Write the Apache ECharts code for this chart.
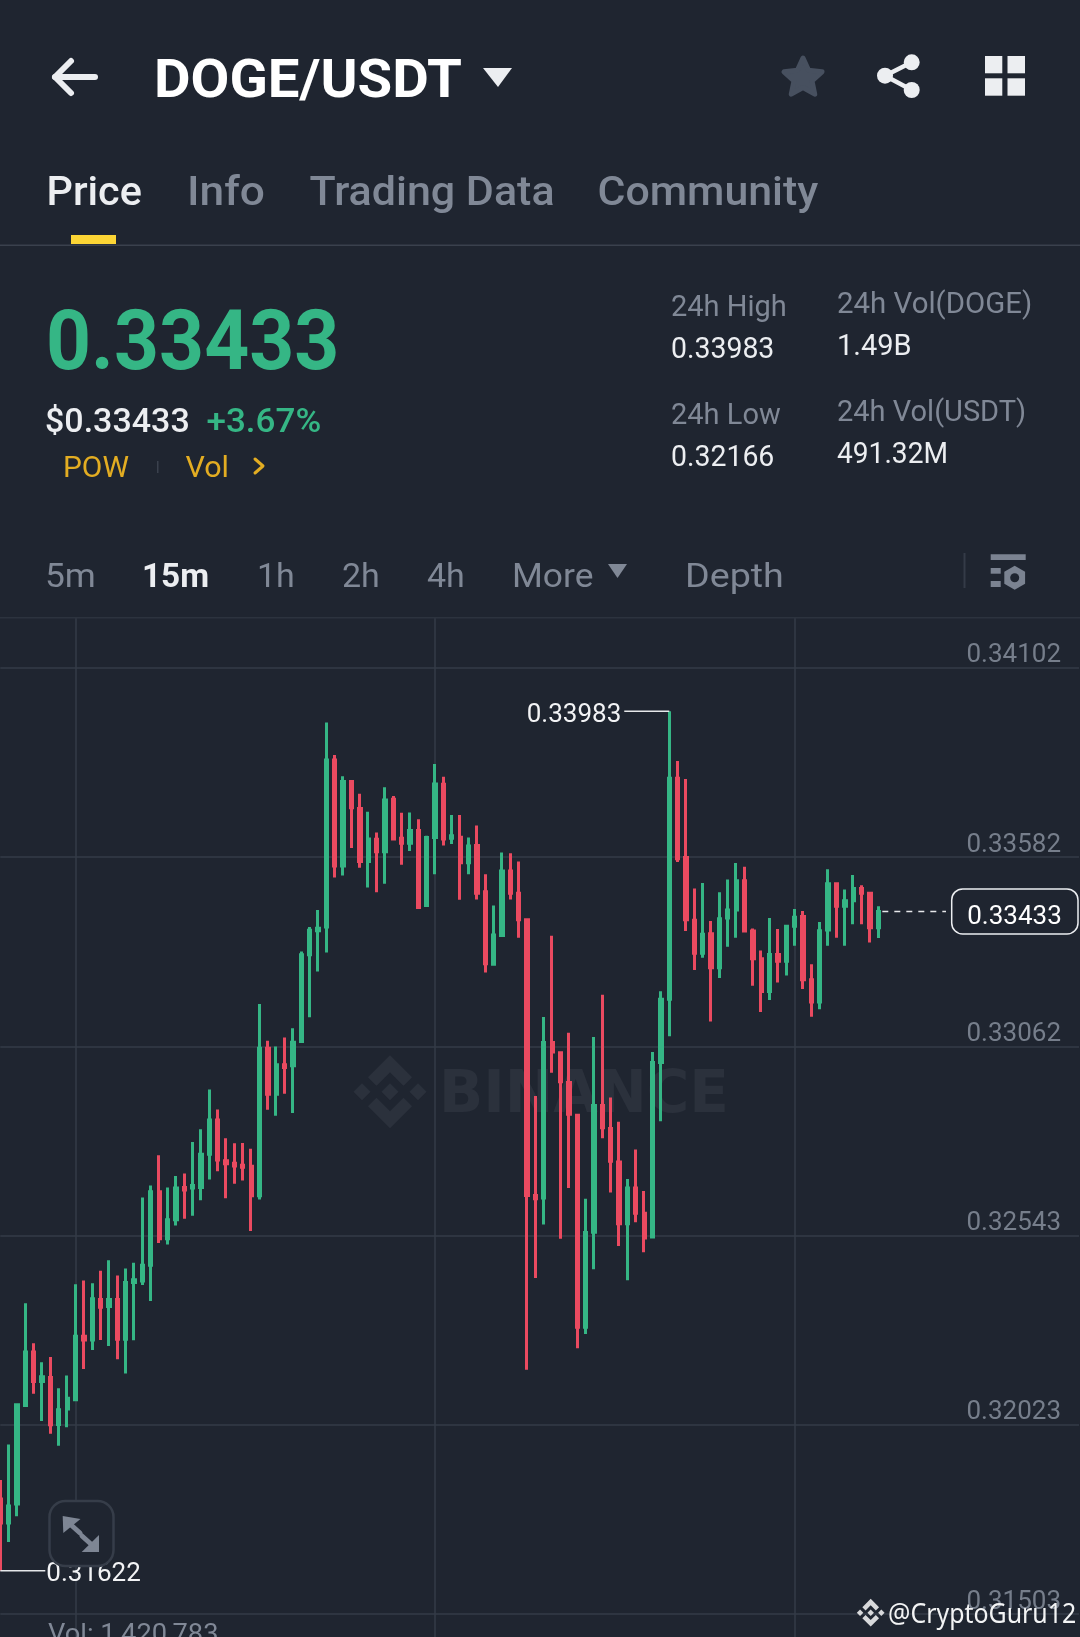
<!DOCTYPE html>
<html>
<head>
<meta charset="utf-8">
<style>html,body{margin:0;padding:0;background:#1f2530}#c{width:1080px;height:1637px}</style>
<script src="https://cdn.jsdelivr.net/npm/echarts@6/dist/echarts.min.js"></script>
</head>
<body>
<div id="c"></div>
<script>
const opens = [0.31819,0.31753,0.31805,0.32076,0.32223,0.32142,0.32153,0.32024,0.32066,0.32092,
0.32266,0.32256,0.32367,0.32348,0.32367,0.32258,0.32414,0.32418,0.32461,0.32663,
0.32534,0.32586,0.32675,0.32673,0.32675,0.32766,0.32860,0.32748,0.32741,0.32736,
0.32733,0.32652,0.33057,0.32931,0.33012,0.33009,0.33076,0.33314,0.33380,0.33390,
0.33849,0.33558,0.33790,0.33716,0.33570,0.33631,0.33597,0.33741,0.33634,0.33620,
0.33655,0.33449,0.33636,0.33782,0.33634,0.33637,0.33567,0.33614,0.33487,0.33288,
0.33367,0.33544,0.33483,0.33410,0.32653,0.32646,0.33073,0.33045,0.32963,0.32873,
0.32291,0.32552,0.32900,0.32837,0.32745,0.32575,0.32673,0.32604,0.32539,0.33018,
0.33192,0.33799,0.33581,0.33409,0.33318,0.33372,0.33278,0.33415,0.33437,0.33517,
0.33379,0.33303,0.33213,0.33315,0.33296,0.33392,0.33419,0.33245,0.33184,0.33382,
0.33509,0.33447,0.33462,0.33496,0.33483,0.33388];
const closes = [0.31753,0.31800,0.32078,0.32223,0.32142,0.32155,0.32023,0.32064,0.32096,0.32266,
0.32256,0.32369,0.32346,0.32367,0.32258,0.32414,0.32421,0.32461,0.32663,0.32534,
0.32586,0.32673,0.32668,0.32680,0.32766,0.32860,0.32750,0.32740,0.32734,0.32730,
0.32652,0.33057,0.32931,0.33012,0.33004,0.33074,0.33314,0.33381,0.33387,0.33849,
0.33558,0.33790,0.33718,0.33570,0.33632,0.33597,0.33739,0.33632,0.33620,0.33655,
0.33444,0.33636,0.33783,0.33632,0.33641,0.33567,0.33613,0.33483,0.33289,0.33368,
0.33544,0.33483,0.33410,0.32653,0.32644,0.33073,0.33047,0.32965,0.32876,0.32291,
0.32551,0.32900,0.32839,0.32747,0.32575,0.32673,0.32604,0.32536,0.33018,0.33192,
0.33799,0.33578,0.33410,0.33318,0.33370,0.33278,0.33413,0.33437,0.33517,0.33379,
0.33303,0.33213,0.33315,0.33296,0.33392,0.33417,0.33245,0.33184,0.33380,0.33509,
0.33447,0.33462,0.33496,0.33483,0.33388,0.33433];
const lows = [0.31622,0.31701,0.31772,0.32074,0.32108,0.32033,0.31998,0.31965,0.32016,0.32089,
0.32176,0.32228,0.32256,0.32239,0.32203,0.32164,0.32255,0.32407,0.32363,0.32522,
0.32518,0.32570,0.32589,0.32597,0.32640,0.32697,0.32719,0.32645,0.32685,0.32694,
0.32555,0.32642,0.32888,0.32872,0.32932,0.32879,0.33074,0.33142,0.33268,0.33320,
0.33526,0.33532,0.33607,0.33553,0.33499,0.33486,0.33509,0.33629,0.33561,0.33599,
0.33442,0.33448,0.33535,0.33614,0.33618,0.33465,0.33535,0.33466,0.33265,0.33284,
0.33364,0.33466,0.33361,0.32174,0.32426,0.32573,0.32990,0.32534,0.32673,0.32233,
0.32272,0.32450,0.32810,0.32661,0.32514,0.32420,0.32579,0.32497,0.32536,0.32857,
0.33090,0.33569,0.33379,0.33272,0.33306,0.33131,0.33250,0.33336,0.33361,0.33377,
0.33229,0.33157,0.33190,0.33238,0.33257,0.33339,0.33220,0.33144,0.33164,0.33339,
0.33361,0.33339,0.33398,0.33398,0.33348,0.33360];
const highs = [0.31871,0.31969,0.32080,0.32357,0.32247,0.32195,0.32209,0.32123,0.32158,0.32409,
0.32419,0.32412,0.32446,0.32475,0.32433,0.32452,0.32468,0.32647,0.32680,0.32763,
0.32675,0.32706,0.32713,0.32800,0.32835,0.32944,0.32889,0.32810,0.32796,0.32797,
0.32781,0.33179,0.33078,0.33062,0.33087,0.33112,0.33323,0.33390,0.33437,0.33952,
0.33863,0.33804,0.33792,0.33756,0.33707,0.33650,0.33774,0.33750,0.33704,0.33705,
0.33686,0.33641,0.33838,0.33803,0.33698,0.33698,0.33636,0.33669,0.33535,0.33449,
0.33595,0.33593,0.33570,0.33413,0.32926,0.33143,0.33366,0.33047,0.33100,0.32875,
0.32644,0.33088,0.33204,0.32922,0.32855,0.32698,0.32779,0.32665,0.33047,0.33214,
0.33983,0.33846,0.33797,0.33496,0.33511,0.33407,0.33486,0.33521,0.33566,0.33556,
0.33386,0.33326,0.33415,0.33385,0.33394,0.33440,0.33434,0.33288,0.33404,0.33549,
0.33511,0.33493,0.33533,0.33505,0.33485,0.33447];
const yTicks = [0.31503,0.32023,0.32543,0.33062,0.33582,0.34102];
const highMark = 0.33983, highIndex = 80;
const lowMark = 0.31622, lowIndex = 0;
const lastPrice = 0.33433, lastIndex = 105;
const slotCount = 130;
const categories = Array.from({length: slotCount}, (_, i) => String(i));

const BG = '#1f2530', GRID = '#343b47', GREEN = '#35b685', RED = '#ea4a60', WHITE = '#eceef1', GRAY = '#808896', GOLD = '#e3ad22';
const FONT = 'Roboto';
const candles = opens.map((o, i) => [o, closes[i], lows[i], highs[i]]);

function T(text, x, y, size, fill, weight, sx, sy) {
  return {type:'text', x, y:y + size*0.1, scaleX:sx||1, scaleY:sy||1, z:20, silent:true, style:{text, fill, font:(weight||400)+' '+size+'px '+FONT, textAlign:'left', textVerticalAlign:'middle'}};
}
function poly(points, fill, z, stroke, lw) {
  return {type:'polygon', z:z==null?20:z, silent:true, shape:{points}, style:{fill, stroke:stroke||null, lineWidth:lw||0, lineJoin:'round'}};
}
function pl(points, stroke, lw, z) {
  return {type:'polyline', z:z==null?20:z, silent:true, shape:{points}, style:{stroke, lineWidth:lw, fill:null, lineCap:'round', lineJoin:'round'}};
}
function rect(x, y, w, h, fill, z, r) {
  return {type:'rect', z:z==null?20:z, silent:true, shape:{x, y, width:w, height:h, r:r||0}, style:{fill}};
}
function circ(cx, cy, r, fill, z) {
  return {type:'circle', z:z==null?20:z, silent:true, shape:{cx, cy, r}, style:{fill}};
}
function logo(cx, cy, s, fill, z) {
  const P = a => a.map(p => [cx + p[0]*s, cy + p[1]*s]);
  const D = (dx, dy, h) => P([[dx, dy-h],[dx+h, dy],[dx, dy+h],[dx-h, dy]]);
  return [
    poly(D(0,0,8.5), fill, z), poly(D(-28,0,8.5), fill, z), poly(D(28,0,8.5), fill, z),
    poly(P([[0,-36.5],[22,-14.5],[13.5,-6],[0,-19.5],[-13.5,-6],[-22,-14.5]]), fill, z),
    poly(P([[0,36.5],[22,14.5],[13.5,6],[0,19.5],[-13.5,6],[-22,14.5]]), fill, z)
  ];
}
function star(cx, cy, R, r) {
  const pts = [];
  for (let i = 0; i < 10; i++) {
    const a = -Math.PI/2 + i*Math.PI/5, q = i%2 ? r : R;
    pts.push([cx + q*Math.cos(a), cy + q*Math.sin(a)]);
  }
  return pts;
}
function hex(cx, cy, R) {
  const pts = [];
  for (let i = 0; i < 6; i++) {
    const a = -Math.PI/2 + i*Math.PI/3;
    pts.push([cx + R*Math.cos(a), cy + R*Math.sin(a)]);
  }
  return pts;
}

const elements = [
  // header
  pl([[71,61],[55,77],[71,93]], WHITE, 6), pl([[55,77],[95,77]], WHITE, 6),
  T('DOGE/USDT', 154, 78, 54, '#ffffff', 700, 1.043),
  poly([[483,68],[512,68],[498,87]], WHITE),
  poly(star(803,78,20,9.5), '#47505f', 20, '#47505f', 5),
  pl([[911.7,62.3],[885,75.7],[911.7,90]], WHITE, 4.5),
  circ(885,75.7,8,WHITE), circ(911.7,62.3,8,WHITE), circ(911.7,90,8,WHITE),
  rect(985,56,17.3,17.3,WHITE), rect(1007.5,56,17.5,17.3,WHITE), rect(985,78.3,17.3,17.4,WHITE), rect(1007.5,78.3,17.5,17.4,WHITE),
  // tabs
  T('Price', 46.5, 191, 40, WHITE, 500, 1.035),
  T('Info', 187, 191, 40, GRAY, 500, 1.106),
  T('Trading Data', 309.5, 191, 40, GRAY, 500, 1.074),
  T('Community', 597.5, 191, 40, GRAY, 500, 1.071),
  rect(71, 235, 45, 9, '#fcd535'),
  rect(0, 244.5, 1080, 1.5, '#3a414d'),
  // price block
  T('0.33433', 46, 339.5, 84, GREEN, 700, 0.936),
  T('$0.33433', 45, 420, 34, WHITE, 500),
  T('+3.67%', 206.5, 420, 34, GREEN, 500, 1.03),
  T('POW', 63, 467, 29, GOLD, 400, 1.03),
  rect(157, 461, 1.5, 12, '#3a414d'),
  T('Vol', 185.5, 467, 29, GOLD, 400, 1.05),
  pl([[255,459],[263,466],[255,473]], GOLD, 3),
  T('24h High', 671, 306, 29, GRAY),
  T('0.33983', 671, 348, 29, WHITE, 400, 0.98),
  T('24h Low', 671, 414, 29, GRAY),
  T('0.32166', 671, 456, 29, WHITE, 400, 0.98),
  T('24h Vol(DOGE)', 837, 303, 29, GRAY, 400, 1.015),
  T('1.49B', 837, 345, 29, WHITE),
  T('24h Vol(USDT)', 837, 411, 29, GRAY),
  T('491.32M', 837, 453, 29, WHITE, 400, 0.97),
  // intervals
  T('5m', 45, 575, 34, GRAY, 400, 1.04),
  T('15m', 142, 575, 34, WHITE, 700, 0.98),
  T('1h', 257, 575, 34, GRAY),
  T('2h', 342, 575, 34, GRAY),
  T('4h', 427, 575, 34, GRAY),
  T('More', 512, 575, 34, GRAY, 400, 1.04),
  poly([[608,564],[627,564],[617.5,578]], GRAY),
  T('Depth', 685, 575, 34, GRAY, 400, 1.107),
  rect(963.5, 553, 2, 35, '#343b47'),
  rect(990.7, 554.3, 35, 5.7, '#7b8391'),
  rect(990.7, 568, 10, 5.7, '#7b8391'),
  rect(990.7, 581, 10, 6, '#7b8391'),
  poly(hex(1014.7,577.7,12), '#7b8391'),
  circ(1014.7,577.7,4.5,BG),
  rect(0, 617, 1080, 1.5, '#2c333e'),
  // chart watermark
  ...logo(390, 1091.7, 1, '#2b313c', 0),
  {type:'text', x:439, y:1097, z:0, silent:true, style:{text:'BINANCE', fill:'#2b313c', font:'700 58px "DejaVu Sans"', textAlign:'left', textVerticalAlign:'middle'}},
  // expand button
  {type:'rect', z:30, silent:true, shape:{x:49.5,y:1501,width:64,height:65,r:16}, style:{fill:BG, stroke:'#363d49', lineWidth:2.5}},
  poly([[62.7,1516],[80.5,1519],[63.3,1533]], '#7e8694', 31),
  pl([[70,1524],[80,1533]], '#7e8694', 5, 31),
  poly([[99,1552],[81.7,1552],[99,1535]], '#7e8694', 31),
  pl([[82,1536],[92,1545]], '#7e8694', 5, 31),
  // footer
  T('Vol: 1,420,783', 48, 1633, 26, GRAY, 400, 1.05),
  ...logo(870.7, 1612.7, 0.38, '#d8d9db', 40),
  {type:'text', x:888, y:1615, scaleX:0.94, z:40, silent:true, style:{text:'@CryptoGuru12', fill:'#f2f3f4', font:'400 26.5px "Noto Sans"', textAlign:'left', textVerticalAlign:'middle'}}
];

const chart = echarts.init(document.getElementById('c'), null, {renderer:'canvas', width:1080, height:1637});
chart.setOption({
  animation:false,
  backgroundColor:BG,
  grid:{left:0.3, top:618, width:1078.7, height:1019, containLabel:false},
  xAxis:{type:'category', data:categories, boundaryGap:false,
    axisLine:{show:false}, axisTick:{show:false}, axisLabel:{show:false},
    splitLine:{show:true, interval:(i)=>i%43===9, lineStyle:{color:GRID, width:1.5}}},
  yAxis:{type:'value', position:'right', min:0.31440, max:0.34239, scale:true,
    axisLine:{show:false}, axisTick:{show:false, customValues:yTicks},
    axisLabel:{inside:true, margin:18, customValues:yTicks, color:'#767e8b', fontFamily:FONT, fontSize:26, lineHeight:22, align:'right', verticalAlign:'bottom', padding:[0,0,1,0], formatter:v=>v.toFixed(5), hideOverlap:false},
    splitLine:{show:true, lineStyle:{color:GRID, width:1.5}}},
  graphic:{elements},
  series:[
    {type:'candlestick', data:candles, barWidth:2.8, z:5,
      itemStyle:{color:GREEN, color0:RED, borderColor:GREEN, borderColor0:RED, borderWidth:3}},
    {type:'custom', z:6, silent:true, clip:false, data:[[highIndex, highMark, -1],[lowIndex, lowMark, 1]], encode:{x:0,y:1},
      renderItem:(p, api)=>{
        const c = api.coord([api.value(0), api.value(1)]), d = api.value(2), len = 45;
        return {type:'group', children:[
          {type:'line', shape:{x1:c[0], y1:c[1], x2:c[0]+d*len, y2:c[1]}, style:{stroke:'#e6e8ea', lineWidth:1.5}},
          {type:'text', style:{x:c[0]+d*(len+(d<0?3:1)), y:c[1]+4, text:api.value(1).toFixed(5), fill:'#f2f3f5', fontFamily:FONT, fontSize:26, textAlign:d<0?'right':'left', textVerticalAlign:'middle'}}
        ]};
      }},
    {type:'custom', z:6, silent:true, clip:false, data:[[lastIndex, lastPrice]], encode:{x:0,y:1},
      renderItem:(p, api)=>{
        const c = api.coord([api.value(0), api.value(1)]);
        return {type:'group', children:[
          {type:'line', shape:{x1:c[0]+4, y1:c[1], x2:946, y2:c[1]}, style:{stroke:'#e6e8ea', lineWidth:1.5, lineDash:[6,6]}},
          {type:'rect', shape:{x:951.7, y:c[1]-22.5, width:126.3, height:45, r:11}, style:{fill:BG, stroke:'#eceef1', lineWidth:1.5}},
          {type:'text', style:{x:1014.5, y:c[1]+6, text:api.value(1).toFixed(5), fill:'#ffffff', fontFamily:FONT, fontSize:26, textAlign:'center', textVerticalAlign:'middle'}}
        ]};
      }}
  ]
});
</script>
</body>
</html>
